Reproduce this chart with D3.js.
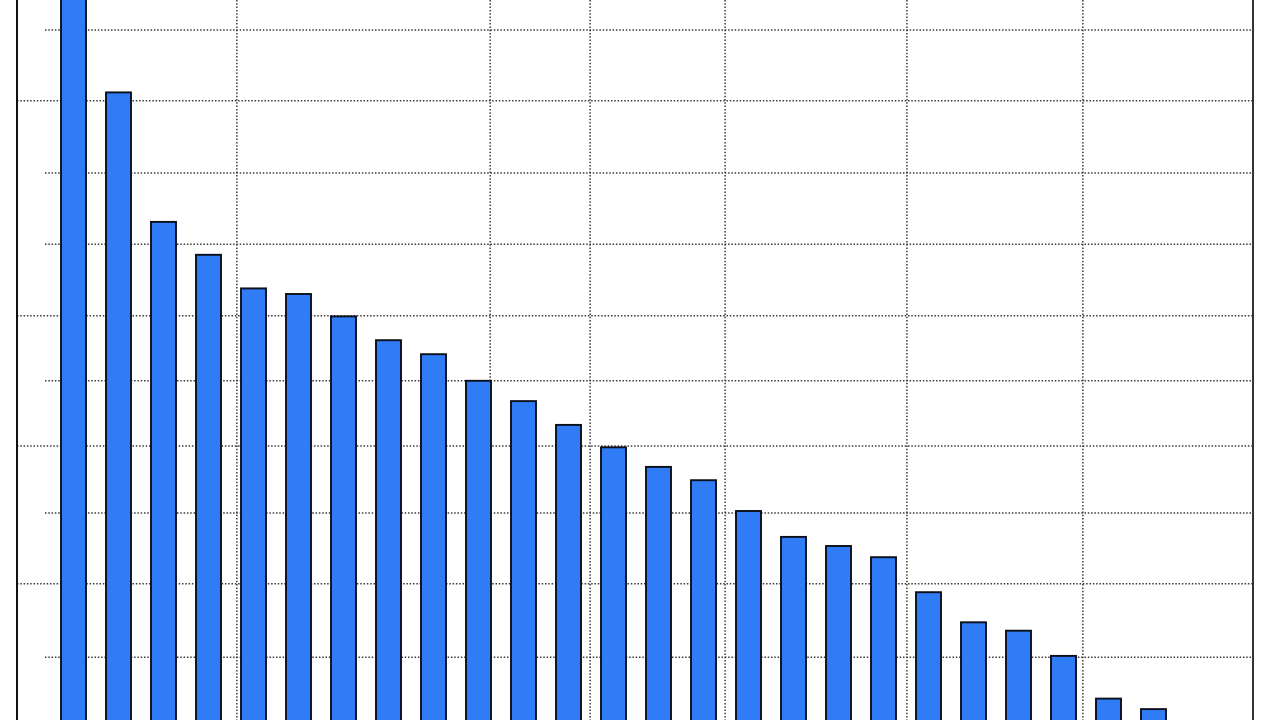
<!DOCTYPE html>
<html>
<head>
<meta charset="utf-8">
<script src="https://cdn.jsdelivr.net/npm/d3@7"></script>
<style>
  html, body { margin: 0; padding: 0; background: #ffffff; }
  svg { display: block; }
</style>
</head>
<body>
<svg id="chart" width="1280" height="720"></svg>
<script>
// ---- data ----
const categories = d3.range(1, 26).map(i => "Item " + i);
const values = [106, 90.8, 72.3, 67.6, 62.8, 62.0, 58.8, 55.4, 53.4, 49.6,
                46.7, 43.3, 40.1, 37.3, 35.4, 31.0, 27.3, 26.0, 24.4, 19.4,
                15.1, 13.9, 10.3, 4.2, 2.7];
const yGridValues = [99.7, 89.6, 79.3, 69.1, 58.9, 49.6, 40.3, 30.7, 20.6, 10.1];
const yGridMajor  = [89.6, 58.9, 40.3, 20.6];
const xGridValues = [3.63, 9.26, 11.48, 14.48, 18.52, 22.43];

// ---- layout ----
const W = 1280, H = 720;
const plotLeft = 17, plotRight = 1253;
const barWidth = 25;

const svg = d3.select("#chart");

const x = d3.scaleLinear().domain([0, categories.length - 1]).range([73.5, 1153.5]);
const y = d3.scaleLinear().domain([0, 100]).range([728, 28]);

const gridColor = "#3a3a3a";
const dash = "1.5,1.8";

// vertical grid lines
svg.append("g").selectAll("line")
  .data(xGridValues)
  .join("line")
  .attr("x1", d => x(d)).attr("x2", d => x(d))
  .attr("y1", 0).attr("y2", H)
  .attr("stroke", gridColor)
  .attr("stroke-width", 1.5)
  .attr("stroke-dasharray", dash);

// horizontal grid lines
svg.append("g").selectAll("line")
  .data(yGridValues)
  .join("line")
  .attr("x1", d => yGridMajor.includes(d) ? plotLeft : 45)
  .attr("x2", plotRight)
  .attr("y1", d => y(d)).attr("y2", d => y(d))
  .attr("stroke", gridColor)
  .attr("stroke-width", 1.5)
  .attr("stroke-dasharray", dash);

// bars
svg.append("g").selectAll("rect")
  .data(values)
  .join("rect")
  .attr("x", (d, i) => x(i) - barWidth / 2)
  .attr("width", barWidth)
  .attr("y", d => y(d))
  .attr("height", d => y(0) - y(d))
  .attr("fill", "#2f7cf6")
  .attr("stroke", "#0b0f1a")
  .attr("stroke-width", 1.9);

// left axis line and right border
svg.append("line")
  .attr("x1", plotLeft).attr("x2", plotLeft)
  .attr("y1", 0).attr("y2", H)
  .attr("stroke", "#111").attr("stroke-width", 2);
svg.append("line")
  .attr("x1", plotRight).attr("x2", plotRight)
  .attr("y1", 0).attr("y2", H)
  .attr("stroke", "#333").attr("stroke-width", 2);
</script>
</body>
</html>
